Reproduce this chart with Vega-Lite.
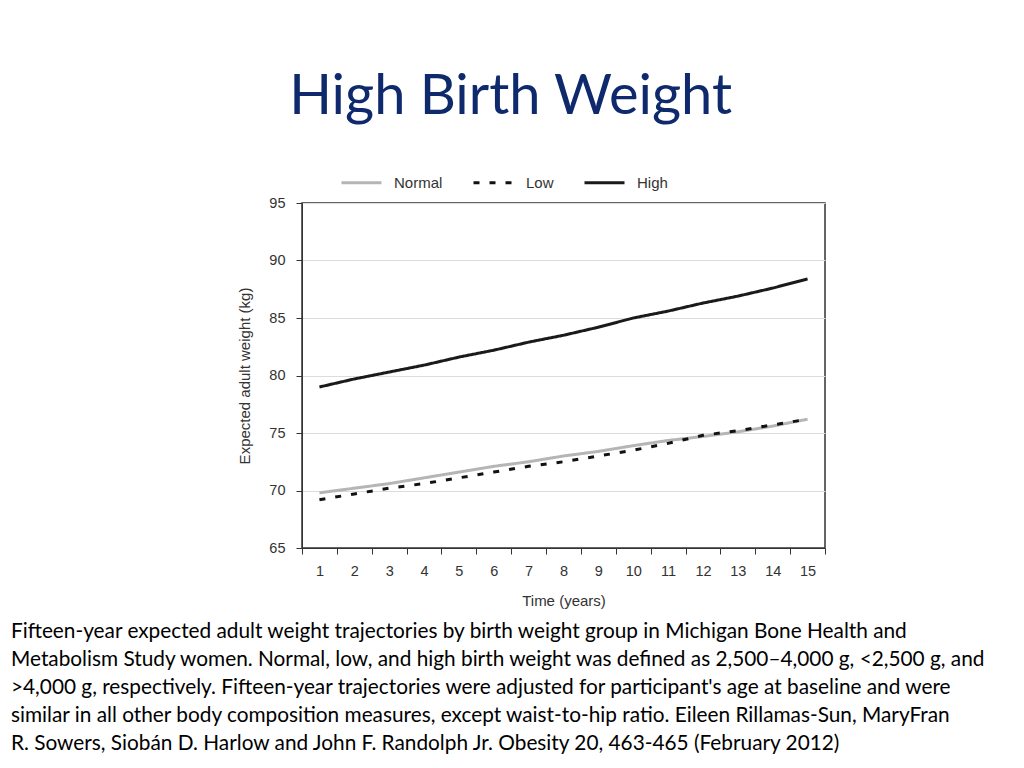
{
  "$schema": "https://vega.github.io/schema/vega-lite/v6.json",
  "background": "white",
  "padding": {"left": 10, "top": 69, "right": 5, "bottom": 5},
  "title": {
    "text": "High Birth Weight",
    "font": "Lato",
    "fontSize": 56,
    "fontWeight": "normal",
    "color": "#0E2A6C",
    "anchor": "middle",
    "dx": 12,
    "offset": 35
  },
  "config": {
    "font": "Liberation Sans",
    "view": {"stroke": "#333333", "strokeWidth": 1.5},
    "axis": {
      "labelFont": "Liberation Sans",
      "labelFontSize": 14.5,
      "labelColor": "#333333",
      "titleFont": "Liberation Sans",
      "titleFontSize": 15,
      "titleFontWeight": "normal",
      "titleColor": "#333333",
      "domainColor": "#333333",
      "tickColor": "#333333",
      "tickSize": 6,
      "labelPadding": 8
    },
    "legend": {
      "labelFont": "Liberation Sans",
      "labelFontSize": 15,
      "labelColor": "#333333"
    }
  },
  "vconcat": [
    {
      "width": 523,
      "height": 345,
      "title": {
        "text": [
          "Fifteen-year expected adult weight trajectories by birth weight group in Michigan Bone Health and",
          "Metabolism Study women. Normal, low, and high birth weight was defined as 2,500–4,000 g, <2,500 g, and",
          ">4,000 g, respectively. Fifteen-year trajectories were adjusted for participant's age at baseline and were",
          "similar in all other body composition measures, except waist-to-hip ratio. Eileen Rillamas-Sun, MaryFran",
          "R. Sowers, Siobán D. Harlow and John F. Randolph Jr. Obesity 20, 463-465 (February 2012)"
        ],
        "orient": "bottom",
        "anchor": "start",
        "frame": "group",
        "align": "left",
        "dx": -291,
        "font": "Lato",
        "fontSize": 20.8,
        "fontWeight": "normal",
        "lineHeight": 28,
        "color": "#000000",
        "offset": 13
      },
      "data": {
        "values": [
          {"year": 1, "group": "Normal", "weight": 69.8},
          {"year": 2, "group": "Normal", "weight": 70.2},
          {"year": 3, "group": "Normal", "weight": 70.6},
          {"year": 4, "group": "Normal", "weight": 71.1},
          {"year": 5, "group": "Normal", "weight": 71.6},
          {"year": 6, "group": "Normal", "weight": 72.1},
          {"year": 7, "group": "Normal", "weight": 72.5},
          {"year": 8, "group": "Normal", "weight": 73.0},
          {"year": 9, "group": "Normal", "weight": 73.4},
          {"year": 10, "group": "Normal", "weight": 73.9},
          {"year": 11, "group": "Normal", "weight": 74.35},
          {"year": 12, "group": "Normal", "weight": 74.7},
          {"year": 13, "group": "Normal", "weight": 75.1},
          {"year": 14, "group": "Normal", "weight": 75.6},
          {"year": 15, "group": "Normal", "weight": 76.2},
          {"year": 1, "group": "Low", "weight": 69.2},
          {"year": 2, "group": "Low", "weight": 69.7},
          {"year": 3, "group": "Low", "weight": 70.2},
          {"year": 4, "group": "Low", "weight": 70.6},
          {"year": 5, "group": "Low", "weight": 71.1},
          {"year": 6, "group": "Low", "weight": 71.6},
          {"year": 7, "group": "Low", "weight": 72.1},
          {"year": 8, "group": "Low", "weight": 72.5},
          {"year": 9, "group": "Low", "weight": 73.0},
          {"year": 10, "group": "Low", "weight": 73.5},
          {"year": 11, "group": "Low", "weight": 74.1},
          {"year": 12, "group": "Low", "weight": 74.8},
          {"year": 13, "group": "Low", "weight": 75.2},
          {"year": 14, "group": "Low", "weight": 75.7},
          {"year": 15, "group": "Low", "weight": 76.2},
          {"year": 1, "group": "High", "weight": 79.0},
          {"year": 2, "group": "High", "weight": 79.7},
          {"year": 3, "group": "High", "weight": 80.3},
          {"year": 4, "group": "High", "weight": 80.9},
          {"year": 5, "group": "High", "weight": 81.6},
          {"year": 6, "group": "High", "weight": 82.2},
          {"year": 7, "group": "High", "weight": 82.9},
          {"year": 8, "group": "High", "weight": 83.5},
          {"year": 9, "group": "High", "weight": 84.2},
          {"year": 10, "group": "High", "weight": 85.0},
          {"year": 11, "group": "High", "weight": 85.6},
          {"year": 12, "group": "High", "weight": 86.3},
          {"year": 13, "group": "High", "weight": 86.9},
          {"year": 14, "group": "High", "weight": 87.6},
          {"year": 15, "group": "High", "weight": 88.4}
        ]
      },
      "mark": {"type": "line", "strokeWidth": 3, "strokeCap": "butt"},
      "encoding": {
        "x": {
          "field": "year",
          "type": "ordinal",
          "scale": {"type": "band", "paddingInner": 0, "paddingOuter": 0},
          "axis": {
            "title": "Time (years)",
            "labelAngle": 0,
            "tickBand": "extent",
            "labelPadding": 10,
            "titlePadding": 16,
            "grid": false
          }
        },
        "y": {
          "field": "weight",
          "type": "quantitative",
          "scale": {"domain": [65, 95], "nice": false, "zero": false},
          "axis": {
            "title": "Expected adult weight (kg)",
            "values": [65, 70, 75, 80, 85, 90, 95],
            "grid": true,
            "gridColor": "#dcdcdc",
            "gridWidth": 1.2,
            "labelPadding": 11,
            "titlePadding": 16
          }
        },
        "color": {
          "field": "group",
          "type": "nominal",
          "scale": {"domain": ["Normal", "Low", "High"], "range": ["#b5b5b5", "#111111", "#1a1a1a"]},
          "legend": {
            "title": null,
            "orient": "none",
            "direction": "horizontal",
            "legendX": 38,
            "legendY": -42,
            "symbolType": "stroke",
            "symbolSize": 1600,
            "symbolStrokeWidth": 3,
            "labelOffset": 11,
            "columnPadding": 24
          }
        },
        "strokeDash": {
          "field": "group",
          "type": "nominal",
          "scale": {"domain": ["Normal", "Low", "High"], "range": [[1, 0], [6, 10], [1, 0]]},
          "legend": {
            "title": null,
            "orient": "none",
            "direction": "horizontal",
            "legendX": 38,
            "legendY": -42,
            "symbolType": "stroke",
            "symbolSize": 1600,
            "symbolStrokeWidth": 3,
            "labelOffset": 11,
            "columnPadding": 24
          }
        }
      }
    }
  ]
}
